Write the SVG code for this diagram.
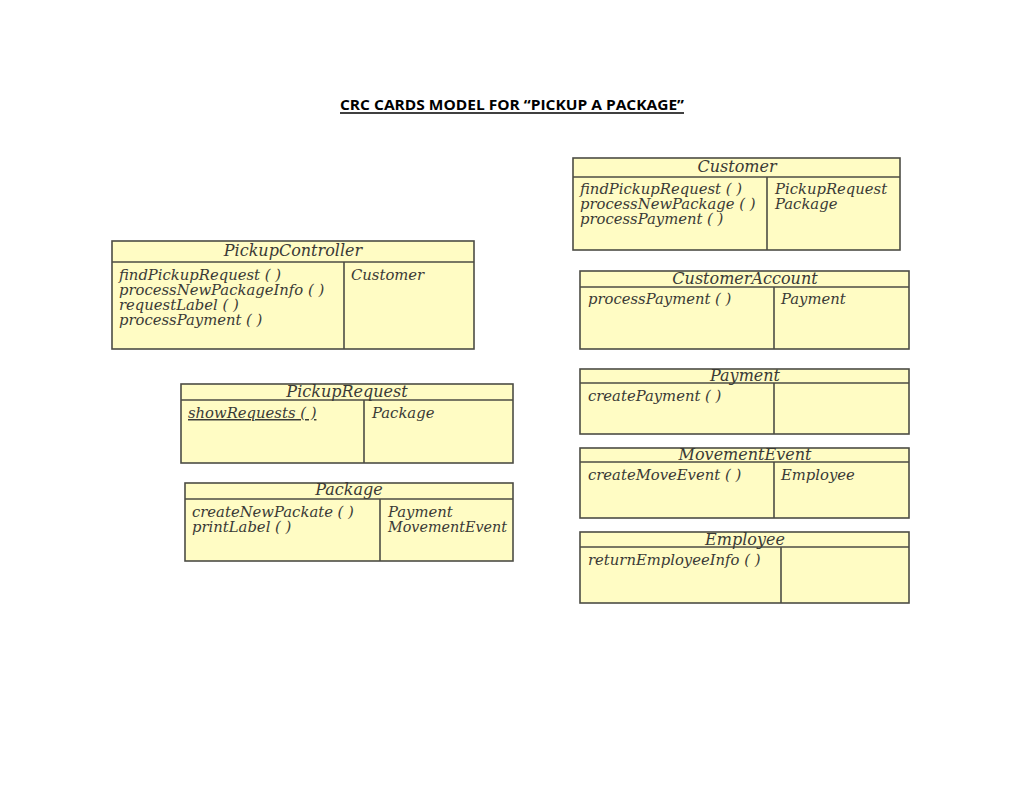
<svg xmlns="http://www.w3.org/2000/svg" width="1024" height="791" viewBox="0 0 1024 791">
<style>
.card{fill:#fffcc4;stroke:#4d4d45;stroke-width:1.6}
.ln{stroke:#4d4d45;stroke-width:1.6;fill:none}
.t{font-family:"DejaVu Serif","Liberation Serif",serif;font-style:italic;font-size:14.8px;fill:#3a3a36}
.h{font-family:"DejaVu Serif","Liberation Serif",serif;font-style:italic;font-size:16px;fill:#3a3a36;text-anchor:middle}
.title{font-family:"Open Sans","Liberation Sans",sans-serif;font-weight:bold;font-size:15px;fill:#000;text-anchor:middle}
</style>
<rect width="1024" height="791" fill="#ffffff"/>
<text class="title" x="512" y="110" textLength="344" lengthAdjust="spacingAndGlyphs">CRC CARDS MODEL FOR “PICKUP A PACKAGE”</text>
<line x1="340" y1="113" x2="684" y2="113" stroke="#000" stroke-width="1.3"/>

<g id="customer">
<rect class="card" x="573" y="158" width="327" height="92"/>
<line class="ln" x1="573" y1="177" x2="900" y2="177"/>
<line class="ln" x1="767" y1="177" x2="767" y2="250"/>
<text class="h" x="737" y="172">Customer</text>
<text class="t" x="580" y="194">findPickupRequest ( )</text>
<text class="t" x="580" y="209">processNewPackage ( )</text>
<text class="t" x="580" y="224">processPayment ( )</text>
<text class="t" x="775" y="194">PickupRequest</text>
<text class="t" x="775" y="209">Package</text>
</g>

<g id="pickupcontroller">
<rect class="card" x="112" y="241" width="362" height="108"/>
<line class="ln" x1="112" y1="262" x2="474" y2="262"/>
<line class="ln" x1="344" y1="262" x2="344" y2="349"/>
<text class="h" x="293" y="256">PickupController</text>
<text class="t" x="119" y="280">findPickupRequest ( )</text>
<text class="t" x="119" y="295">processNewPackageInfo ( )</text>
<text class="t" x="119" y="310">requestLabel ( )</text>
<text class="t" x="119" y="325">processPayment ( )</text>
<text class="t" x="351" y="280">Customer</text>
</g>

<g id="customeraccount">
<rect class="card" x="580" y="271" width="329" height="78"/>
<line class="ln" x1="580" y1="287" x2="909" y2="287"/>
<line class="ln" x1="774" y1="287" x2="774" y2="349"/>
<text class="h" x="745" y="284">CustomerAccount</text>
<text class="t" x="588" y="304">processPayment ( )</text>
<text class="t" x="781" y="304">Payment</text>
</g>

<g id="payment">
<rect class="card" x="580" y="369" width="329" height="65"/>
<line class="ln" x1="580" y1="383" x2="909" y2="383"/>
<line class="ln" x1="774" y1="383" x2="774" y2="434"/>
<text class="h" x="745" y="381">Payment</text>
<text class="t" x="588" y="401">createPayment ( )</text>
</g>

<g id="pickuprequest">
<rect class="card" x="181" y="384" width="332" height="79"/>
<line class="ln" x1="181" y1="400" x2="513" y2="400"/>
<line class="ln" x1="364" y1="400" x2="364" y2="463"/>
<text class="h" x="347" y="397">PickupRequest</text>
<text class="t" x="188" y="418" text-decoration="underline">showRequests ( )</text>
<text class="t" x="372" y="418">Package</text>
</g>

<g id="movementevent">
<rect class="card" x="580" y="448" width="329" height="70"/>
<line class="ln" x1="580" y1="462" x2="909" y2="462"/>
<line class="ln" x1="774" y1="462" x2="774" y2="518"/>
<text class="h" x="745" y="460">MovementEvent</text>
<text class="t" x="588" y="480">createMoveEvent ( )</text>
<text class="t" x="781" y="480">Employee</text>
</g>

<g id="package">
<rect class="card" x="185" y="483" width="328" height="78"/>
<line class="ln" x1="185" y1="499" x2="513" y2="499"/>
<line class="ln" x1="380" y1="499" x2="380" y2="561"/>
<text class="h" x="349" y="495">Package</text>
<text class="t" x="192" y="517">createNewPackate ( )</text>
<text class="t" x="192" y="532">printLabel ( )</text>
<text class="t" x="388" y="517">Payment</text>
<text class="t" x="388" y="532" textLength="119" lengthAdjust="spacingAndGlyphs">MovementEvent</text>
</g>

<g id="employee">
<rect class="card" x="580" y="532" width="329" height="71"/>
<line class="ln" x1="580" y1="547" x2="909" y2="547"/>
<line class="ln" x1="781" y1="547" x2="781" y2="603"/>
<text class="h" x="745" y="545">Employee</text>
<text class="t" x="588" y="565">returnEmployeeInfo ( )</text>
</g>

<g id="connectors"></g>
</svg>
